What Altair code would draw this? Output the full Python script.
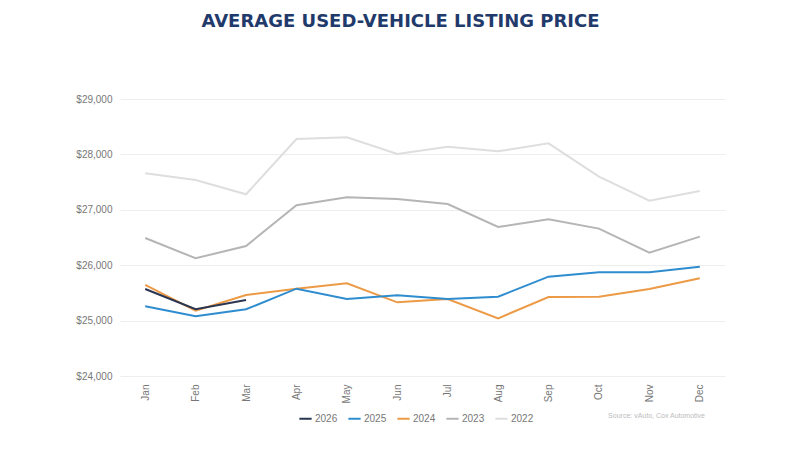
import altair as alt
import pandas as pd

months = ["Jan", "Feb", "Mar", "Apr", "May", "Jun", "Jul", "Aug", "Sep", "Oct", "Nov", "Dec"]
years = ["2026", "2025", "2024", "2023", "2022"]
colors = ["#2a3550", "#2e8ccf", "#ec9a45", "#b5b5b5", "#dedede"]

p2022 = [27660, 27538, 27280, 28278, 28308, 28007, 28140, 28056, 28200, 27600, 27164, 27339]
p2023 = [26491, 26125, 26347, 27081, 27225, 27195, 27105, 26690, 26829, 26660, 26226, 26515]
p2024 = [25643, 25179, 25462, 25576, 25673, 25330, 25390, 25041, 25426, 25432, 25570, 25763]
p2025 = [25258, 25078, 25204, 25576, 25390, 25457, 25390, 25432, 25793, 25872, 25872, 25974]
p2026 = [25570, 25204, 25372]

series = {"2022": p2022, "2023": p2023, "2024": p2024, "2025": p2025, "2026": p2026}
rows = []
for yr, vals in series.items():
    for i, v in enumerate(vals):
        rows.append({"month": months[i], "year": yr, "price": v})
df = pd.DataFrame(rows)

lines = alt.Chart(df).mark_line(strokeWidth=2).encode(
    x=alt.X("month:N", sort=months, scale=alt.Scale(type="point", padding=0.5),
            axis=alt.Axis(title=None, labelAngle=-90, labelColor="#777777", labelFontSize=10,
                          labelFont="Liberation Sans", ticks=False, domain=False, grid=False,
                          labelPadding=8)),
    y=alt.Y("price:Q", scale=alt.Scale(domain=[24000, 29000], nice=False, zero=False),
            axis=alt.Axis(title=None, values=[24000, 25000, 26000, 27000, 28000, 29000],
                          format="$,d", labelColor="#777777", labelFontSize=10,
                          labelFont="Liberation Sans", ticks=False, domain=False,
                          gridColor="#eeeeee", labelPadding=8)),
    color=alt.Color("year:N", scale=alt.Scale(domain=years, range=colors),
                    legend=alt.Legend(title=None, orient="none", direction="horizontal",
                                      legendX=178, legendY=312, symbolType="stroke",
                                      symbolStrokeWidth=2, symbolSize=150,
                                      labelColor="#777777", labelFontSize=10,
                                      labelFont="Liberation Sans", columnPadding=6,
                                      labelOffset=2)),
    order=alt.Order("year:N"),
)

source = alt.Chart(pd.DataFrame({"t": ["Source: vAuto, Cox Automotive"]})).mark_text(
    align="right", baseline="middle", fontSize=7, color="#bbbbbb", font="Liberation Sans"
).encode(text="t:N", x=alt.value(585), y=alt.value(317))

chart = alt.layer(lines, source).properties(
    width=605, height=277,
    background="white",
    title=alt.TitleParams("AVERAGE USED-VEHICLE LISTING PRICE", fontSize=18, font="DejaVu Sans",
                          fontWeight="bold", color="#1f3a6b", anchor="middle", offset=63, dx=-22),
    autosize=alt.AutoSizeParams(type="none"),
    padding={"left": 120, "top": 99, "right": 75, "bottom": 74},
).configure_view(strokeWidth=0, stroke="transparent")

chart.save("out.html", embed_options={"renderer": "svg", "actions": False})
